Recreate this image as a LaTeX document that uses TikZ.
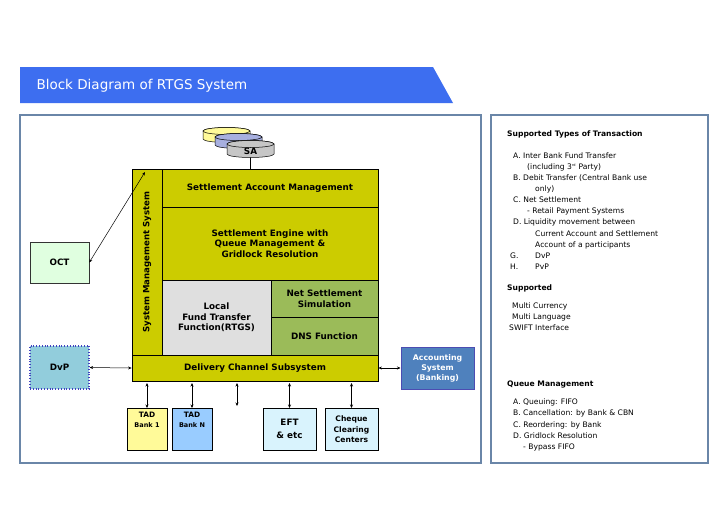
\documentclass[tikz,border=0pt]{standalone}
\usepackage{fontspec}
\setmainfont{DejaVu Sans}
\usetikzlibrary{arrows.meta,shapes.geometric}
\definecolor{olive}{HTML}{CCCC00}
\definecolor{grn}{HTML}{9BBB59}
\definecolor{frame}{HTML}{6A86A8}
\definecolor{ttl}{HTML}{3D6EF0}
\tikzset{
 blk/.style={draw=black,line width=0.8pt,align=center,font=\fontsize{8.8}{10.5}\selectfont\bfseries,inner sep=0pt},
 ar/.style={{Stealth[length=3.5pt,width=3pt]}-{Stealth[length=3.5pt,width=3pt]},line width=0.5pt},
 txt/.style={anchor=west,inner sep=0pt,font=\fontsize{7.6}{9}\selectfont},
 hd/.style={anchor=west,inner sep=0pt,font=\fontsize{7.6}{9}\selectfont\bfseries},
}
\newcommand{\mycyl}[5]{% x, top y, bottom y, half width, color
 \filldraw[fill=#5,draw=black,line width=0.5pt] (#1-#4,#2) -- (#1-#4,#3) arc(180:0:#4 and 3.5) -- (#1+#4,#2) arc(0:-180:#4 and 3.5) -- cycle;
 \draw[line width=0.5pt,fill=#5] (#1,#2) ellipse (#4 and 3.5);}
\begin{document}
\begin{tikzpicture}[x=1pt,y=-1pt]
\useasboundingbox (0,0) rectangle (728,504);
\fill[white] (0,0) rectangle (728,504);
% title
\fill[ttl] (20,67) -- (433,67) -- (453,103) -- (20,103) -- cycle;
\node[anchor=west,text=white,font=\fontsize{13.5}{15}\selectfont] (title) at (33,86) {Block Diagram of RTGS System};
% frames
\draw[frame,line width=1.5pt] (20,115) rectangle (481,463);
\draw[frame,line width=1.5pt] (491,115) rectangle (708,463);
% cylinders
\mycyl{226.5}{131}{139}{23.5}{yellow!40}
\mycyl{238.5}{137}{145}{23.5}{cyan!30!blue!35}
\mycyl{250.5}{144}{154}{23.5}{gray!45}
\node[font=\fontsize{8.8}{9}\selectfont\bfseries] (sa) at (250.5,151) {SA};
% blocks
\node[blk,fill=olive,minimum width=30pt,minimum height=186pt] (sms) at (147,262) {};
\node[rotate=90,font=\fontsize{8.6}{9}\selectfont\bfseries] (smst) at (147,262) {System Management System};
\node[blk,fill=olive,minimum width=216pt,minimum height=38pt] (sam) at (270,188) {Settlement Account Management};
\node[blk,fill=olive,minimum width=216pt,minimum height=73pt] (eng) at (270,243.5) {Settlement Engine with\\Queue Management \&\\Gridlock Resolution};
\node[blk,fill=gray!25,minimum width=109pt,minimum height=75pt] (loc) at (216.5,317.5) {Local\\Fund Transfer\\Function(RTGS)};
\node[blk,fill=grn,minimum width=107pt,minimum height=37pt] (nss) at (324.5,298.5) {Net Settlement\\Simulation};
\node[blk,fill=grn,minimum width=107pt,minimum height=38pt] (dns) at (324.5,336) {DNS Function};
\node[blk,fill=olive,minimum width=246pt,minimum height=26pt] (dcs) at (255,368) {Delivery Channel Subsystem};
\draw[line width=0.8pt] (250.5,158) -- (sam.north -| sa.south);
% side boxes
\node[blk,fill=green!12,draw=black!80,line width=0.5pt,minimum width=59pt,minimum height=41pt] (oct) at (59.5,262.5) {OCT};
\node[blk,fill={rgb,255:red,146;green,205;blue,220},draw=blue!50!gray,dotted,line width=1.2pt,minimum width=59pt,minimum height=43pt] (dvp) at (59.5,367.5) {DvP};
\node[blk,fill={rgb,255:red,79;green,129;blue,189},draw=blue!40!gray,line width=1pt,text=white,minimum width=73pt,minimum height=42pt,font=\fontsize{7.8}{10}\selectfont\bfseries] (acc) at (437.5,368) {Accounting\\System\\(Banking)};
% bottom boxes
\node[blk,fill=yellow!40,line width=0.5pt,minimum width=40pt,minimum height=42pt,anchor=north,font=\fontsize{7.4}{10}\selectfont\bfseries] (t1) at (147,408) {TAD\\{\fontsize{6.5}{8}\selectfont Bank 1}\\[8pt]};
\node[blk,fill={rgb,255:red,153;green,204;blue,255},line width=0.5pt,minimum width=40pt,minimum height=42pt,anchor=north,font=\fontsize{7.4}{10}\selectfont\bfseries] (tn) at (192,408) {TAD\\{\fontsize{6.5}{8}\selectfont Bank N}\\[8pt]};
\node[blk,fill=cyan!15,line width=0.5pt,minimum width=53pt,minimum height=42pt,anchor=north,font=\fontsize{8.8}{13}\selectfont\bfseries] (eft) at (289.5,408) {EFT\\\& etc};
\node[blk,fill=cyan!15,line width=0.5pt,minimum width=53pt,minimum height=42pt,anchor=north,font=\fontsize{7.6}{10.5}\selectfont\bfseries] (chq) at (351.5,408) {Cheque\\Clearing\\Centers};
\coordinate (mid) at (237,406);
% arrows
\draw[ar] (dvp.east) -- (dcs.west);
\draw[ar] (acc.west) -- (dcs.east);
\draw[ar] (oct.east) -- (145,172);
\draw[ar] (t1.north) -- (t1.north |- 0,383);
\draw[ar] (tn.north) -- (tn.north |- 0,383);
\draw[ar] (mid) -- (237,383);
\draw[ar] (eft.north) -- (eft.north |- 0,383);
\draw[ar] (chq.north) -- (chq.north |- 0,383);
% right text
\node[hd] (h1) at (507,134) {Supported Types of Transaction};
\node[txt] (a1) at (513,156) {A. Inter Bank Fund Transfer};
\node[txt] (a2) at (527,167) {(including 3\textsuperscript{\fontsize{3.5}{4}\selectfont rd} Party)};
\node[txt] (b1) at (513,178) {B. Debit Transfer (Central Bank use};
\node[txt] (b2) at (535,189) {only)};
\node[txt] (c1t) at (513,200) {C. Net Settlement};
\node[txt] (c2t) at (527,211) {- Retail Payment Systems};
\node[txt] (d1) at (513,222) {D. Liquidity movement between};
\node[txt] (d2) at (535,234) {Current Account and Settlement};
\node[txt] (d3) at (535,245) {Account of a participants};
\node[txt] (g1) at (510,256) {G.};
\node[txt] (g2) at (535,256) {DvP};
\node[txt] (h1a) at (510,267) {H.};
\node[txt] (h2) at (535,267) {PvP};
\node[hd] (s1) at (507,288) {Supported};
\node[txt] (s2) at (512,306) {Multi Currency};
\node[txt] (s3) at (512,317) {Multi Language};
\node[txt] (s4) at (509,328) {SWIFT Interface};
\node[hd] (q1) at (507,384) {Queue Management};
\node[txt] (q2) at (513,402) {A. Queuing: FIFO};
\node[txt] (q3) at (513,413) {B. Cancellation: by Bank \& CBN};
\node[txt] (q4) at (513,425) {C. Reordering: by Bank};
\node[txt] (q5) at (513,436) {D. Gridlock Resolution};
\node[txt] (q6) at (523,447) {- Bypass FIFO};
\end{tikzpicture}
\end{document}
